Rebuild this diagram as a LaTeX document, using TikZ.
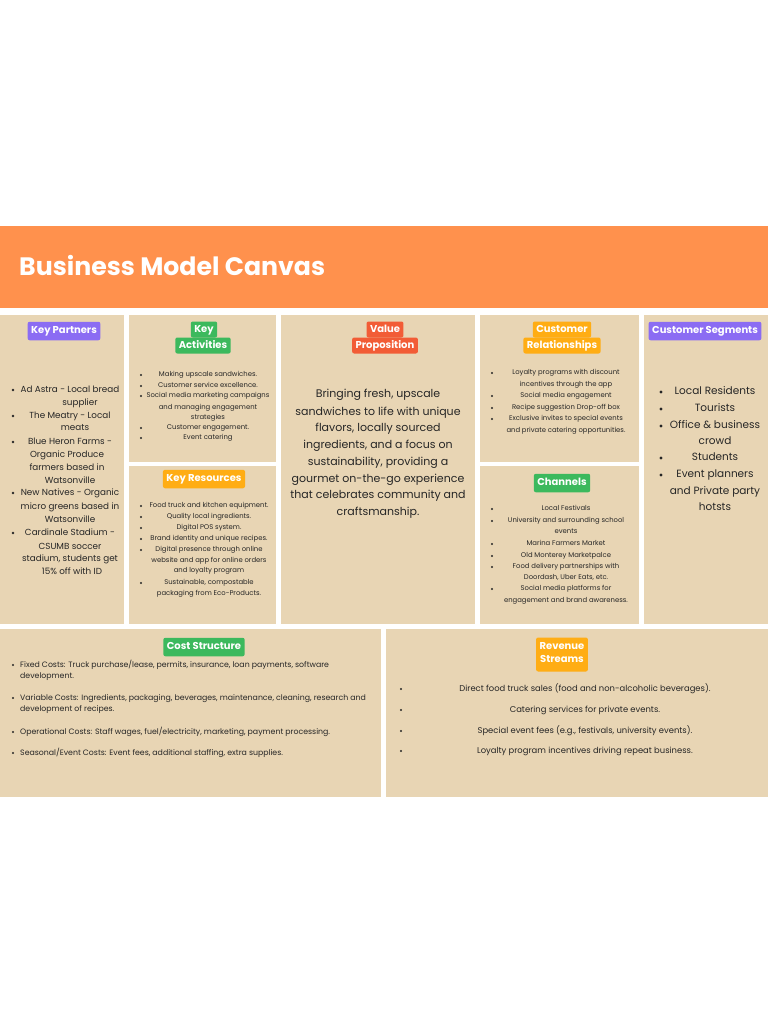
\documentclass[tikz,border=0pt]{standalone}
\usepackage{fontspec}
\setmainfont{Poppins}
\definecolor{hdr}{HTML}{FF914D}
\definecolor{beige}{HTML}{E8D5B4}
\definecolor{ink}{HTML}{262626}
\definecolor{tpurple}{HTML}{8B6CF3}
\definecolor{tgreen}{HTML}{3CB95D}
\definecolor{tred}{HTML}{F25C36}
\definecolor{tamber}{HTML}{FFAD14}
\newcommand\fKP{\fontsize{8.8}{11}\selectfont}
\newcommand\fSm{\fontsize{6.85}{9}\selectfont}
\newcommand\fVP{\fontsize{11}{13}\selectfont}
\newcommand\fCS{\fontsize{10.5}{12}\selectfont}
\newcommand\fCost{\fontsize{7.8}{9}\selectfont}
\newcommand\fRev{\fontsize{8.4}{10}\selectfont}
\newcommand\fTag{\bfseries\fontsize{10}{11}\selectfont}
\newcommand\fTitle{\bfseries\fontsize{25.2}{28}\selectfont}
\tikzset{
  panel/.style={fill=beige},
  txl/.style={anchor=base, inner sep=0pt, text=ink},
  kpt/.style={txl, font=\fKP, yshift=-2.4pt},
  smt/.style={txl, font=\fSm, yshift=-1.9pt},
  vpt/.style={txl, font=\fVP, yshift=-3pt},
  cst/.style={txl, font=\fCS, yshift=-2.8pt},
  cot/.style={txl, font=\fCost, yshift=-2.1pt, anchor=base west},
  rvt/.style={txl, font=\fRev, yshift=-2.3pt},
  tag/.style={fill=#1, text=white, font=\fTag, rounded corners=2pt, inner xsep=3.5pt, inner ysep=0pt, minimum height=18.5pt, text height=7.2pt, text depth=2pt},
  tagl/.style={tag=#1, minimum height=16pt},
}
\begin{document}
\begin{tikzpicture}[x=1pt,y=-1pt]
\useasboundingbox (0,0) rectangle (768,1024);
\fill[white] (0,0) rectangle (768,1024);
% header
\fill[hdr] (0,226) rectangle (768,308);
\node[anchor=west, text=white, font=\fTitle, inner sep=0pt] (title) at (19,266) {Business Model Canvas};
% panels
\fill[panel] (0,315) rectangle (124,624);
\fill[panel] (129,315) rectangle (276,462);
\fill[panel] (129,466) rectangle (276,624);
\fill[panel] (281,315) rectangle (475,624);
\fill[panel] (480,315) rectangle (639,462);
\fill[panel] (480,466) rectangle (639,624);
\fill[panel] (644,315) rectangle (768,624);
\fill[panel] (0,629) rectangle (381,797);
\fill[panel] (386,629) rectangle (768,797);
% tags
\node[tag=tpurple] (kptag) at (64,331) {Key Partners};
\node[tagl=tgreen] (katag1) at (204,329.5) {Key};
\node[tagl=tgreen] (katag2) at (203,345.5) {Activities};
\node[tagl=tred] (vptag1) at (385,329.5) {Value};
\node[tagl=tred] (vptag2) at (385,345.5) {Proposition};
\node[tagl=tamber] (crtag1) at (562,329.5) {Customer};
\node[tagl=tamber] (crtag2) at (562,345.5) {Relationships};
\node[tag=tpurple] (cstag) at (705,331) {Customer Segments};
\node[tag=tamber] (krtag) at (204,479) {Key Resources};
\node[tag=tgreen] (chtag) at (562,483) {Channels};
\node[tag=tgreen] (cotag) at (204,647) {Cost Structure};
\node[tag=tamber, align=center, minimum height=34pt, text height=18pt, text depth=2.5pt, inner xsep=3.5pt] (rvtag) at (562,654.5) {Revenue\\[2pt]Streams};
% key partners
\foreach \py/\px/\ptxt in {390/70/{Ad Astra - Local bread}, 403/80/supplier, 416/70/{The Meatry - Local}, 428/75/meats, 442/70/{Blue Heron Farms -}, 455/67/{Organic Produce}, 468/67/{farmers based in}, 481/70/Watsonville, 493/70/{New Natives - Organic}, 507/70/{micro greens based in}, 520/70/Watsonville, 533/70/{Cardinale Stadium -}, 547/70/{CSUMB soccer}, 559/70/{stadium, students get}, 572/72/{15\% off with ID}}
  \node[kpt] (kp\py) at (\px,\py) {\ptxt};
\foreach \py in {390,416,442,493,533} \fill[ink] (13,\py) circle[radius=1.4pt];
% key activities
\foreach \py/\ptxt in {375/{Making upscale sandwiches.}, 386/{Customer service excellence.}, 396/{Social media marketing campaigns}, 408/{and managing engagement}, 418/strategies, 428/{Customer engagement.}, 438/{Event catering}}
  \node[smt] (ka\py) at (208,\py) {\ptxt};
\foreach \py in {375,386,396,428,438} \fill[ink] (141,\py) circle[radius=1.1pt];
% key resources
\foreach \py/\ptxt in {506/{Food truck and kitchen equipment.}, 517/{Quality local ingredients.}, 528/{Digital POS system.}, 539/{Brand identity and unique recipes.}, 550/{Digital presence through online}, 561/{website and app for online orders}, 571/{and loyalty program}, 583/{Sustainable, compostable}, 594/{packaging from Eco-Products.}}
  \node[smt] (kr\py) at (209,\py) {\ptxt};
\foreach \py in {506,517,528,539,550,583} \fill[ink] (141,\py) circle[radius=1.1pt];
% value proposition
\foreach \py/\ptxt in {394/{Bringing fresh, upscale}, 412/{sandwiches to life with unique}, 428/{flavors, locally sourced}, 445/{ingredients, and a focus on}, 462/{sustainability, providing a}, 479/{gourmet on-the-go experience}, 495/{that celebrates community and}, 512/{craftsmanship.}}
  \node[vpt] (vp\py) at (378,\py) {\ptxt};
% customer relationships
\foreach \py/\ptxt in {373/{Loyalty programs with discount}, 385/{incentives through the app}, 396/{Social media engagement}, 408/{Recipe suggestion Drop-off box}, 419/{Exclusive invites to special events}, 431/{and private catering opportunities.}}
  \node[smt] (cr\py) at (566,\py) {\ptxt};
\foreach \py in {373,396,408,419} \fill[ink] (492,\py) circle[radius=1.1pt];
% channels
\foreach \py/\ptxt in {509/{Local Festivals}, 521/{University and surrounding school}, 532/events, 544/{Marina Farmers Market}, 556/{Old Monterey Marketpalce}, 567/{Food delivery partnerships with}, 578/{Doordash, Uber Eats, etc.}, 589/{Social media platforms for}, 601/{engagement and brand awareness.}}
  \node[smt] (ch\py) at (566,\py) {\ptxt};
\foreach \py in {509,521,544,556,567,589} \fill[ink] (492,\py) circle[radius=1.1pt];
% customer segments
\foreach \py/\ptxt in {392/{Local Residents}, 409/Tourists, 426/{Office \& business}, 442/crowd, 458/Students, 475/{Event planners}, 492/{and Private party}, 508/hotsts}
  \node[cst] (cs\py) at (715,\py) {\ptxt};
\foreach \py in {392,409,426,458,475} \fill[ink] (661,\py) circle[radius=1.6pt];
% cost structure
\foreach \py/\ptxt in {665/{Fixed Costs: Truck purchase/lease, permits, insurance, loan payments, software}, 676/{development.}, 698/{Variable Costs: Ingredients, packaging, beverages, maintenance, cleaning, research and}, 709/{development of recipes.}, 732/{Operational Costs: Staff wages, fuel/electricity, marketing, payment processing.}, 753/{Seasonal/Event Costs: Event fees, additional staffing, extra supplies.}}
  \node[cot] (co\py) at (20,\py) {\ptxt};
\foreach \py in {665,698,732,753} \fill[ink] (13,\py) circle[radius=1.2pt];
% revenue streams
\foreach \py/\ptxt in {689/{Direct food truck sales (food and non-alcoholic beverages).}, 710/{Catering services for private events.}, 731/{Special event fees (e.g., festivals, university events).}, 751/{Loyalty program incentives driving repeat business.}}
  \node[rvt] (rv\py) at (585,\py) {\ptxt};
\foreach \py in {689,710,731,751} \fill[ink] (401,\py) circle[radius=1.2pt];
\end{tikzpicture}
\end{document}
